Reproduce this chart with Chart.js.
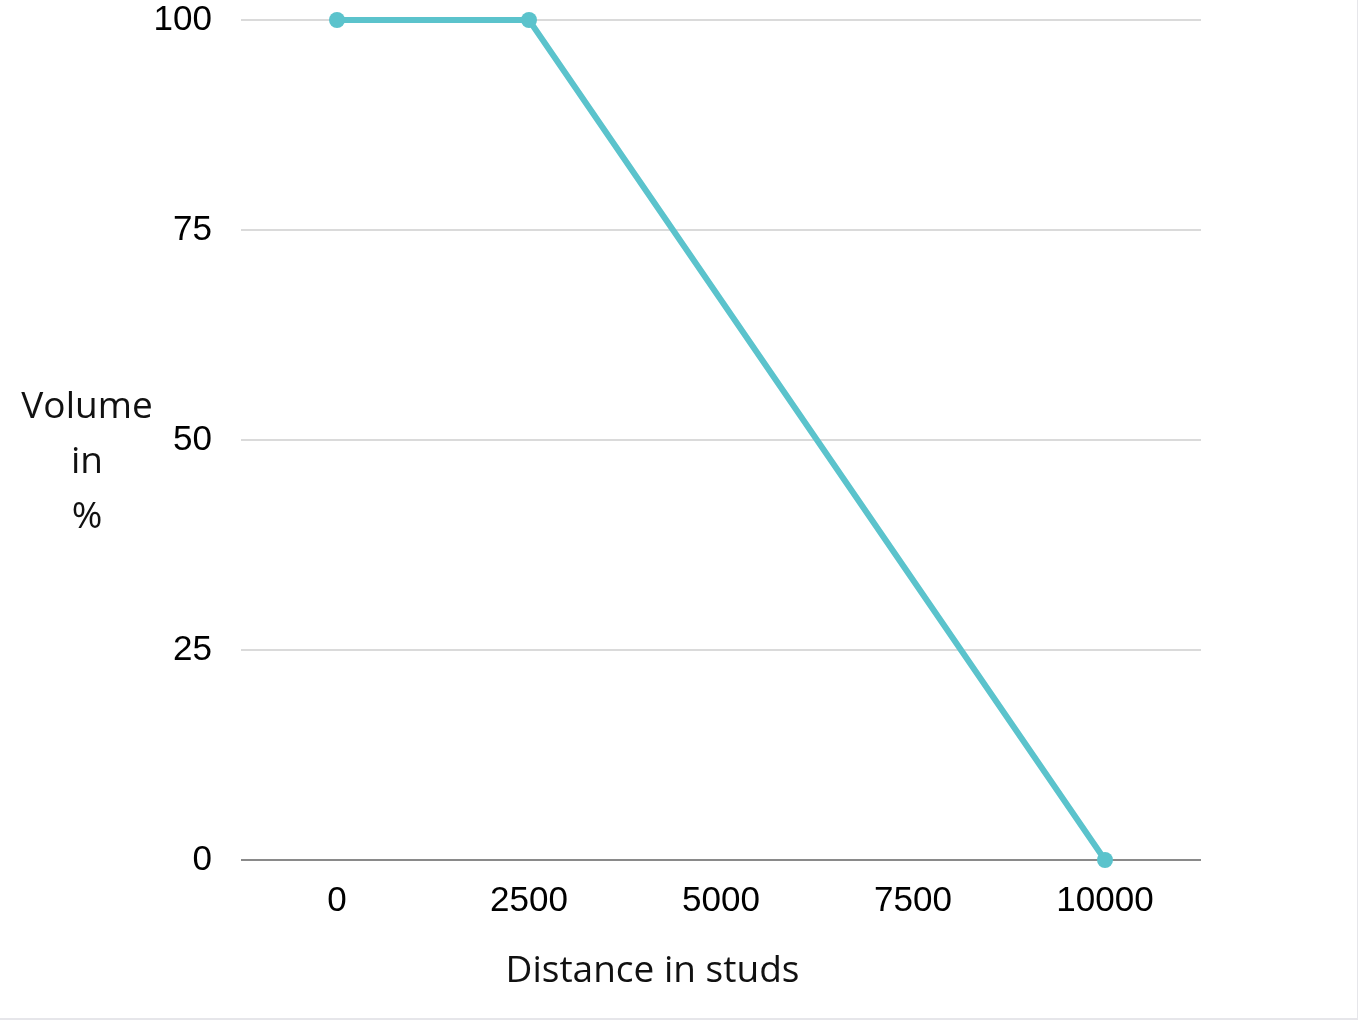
<!DOCTYPE html>
<html>
<head>
<meta charset="utf-8">
<script src="https://cdn.jsdelivr.net/npm/chart.js@4"></script>
<style>
  html, body { margin: 0; padding: 0; background: #e6e6ea; }
  #wrap { width: 1357px; height: 1018px; background: #fff; position: relative; }
</style>
</head>
<body>
<div id="wrap"><canvas id="chart"></canvas></div>
<script>
// Volume falloff by distance
const distanceLabels = ["0", "2500", "5000", "7500", "10000"];
const volume = [100, 100, null, null, 0]; // gaps between 2500 and 10000 are spanned
const volumeTicks = [0, 25, 50, 75, 100];
const yTitleLines = ["Volume", "in", "%"];
const xTitle = "Distance in studs";

const LINE = "#5bc3cc";
const TITLE_FONT = { family: "'Open Sans', sans-serif", size: 37, weight: 400 };
const TICK_FONT = { family: "'Liberation Sans', Arial, sans-serif", size: 35 };

// axis titles: x is off-centre, y is written horizontally one word per line
const axisTitles = {
  id: "axisTitles",
  afterDraw(chart) {
    const { ctx, chartArea } = chart;
    ctx.save();
    ctx.font = `${TITLE_FONT.weight} ${TITLE_FONT.size}px ${TITLE_FONT.family}`;
    ctx.fillStyle = "#111";
    ctx.textAlign = "center";
    ctx.textBaseline = "middle";

    const mid = (chartArea.top + chartArea.bottom) / 2 + 22;
    const gap = 55;
    yTitleLines.forEach((t, i) => {
      ctx.fillText(t, 87, mid + (i - (yTitleLines.length - 1) / 2) * gap);
    });

    ctx.fillText(xTitle, chart.width / 2 - 26, chartArea.bottom + 111);
    ctx.restore();
  },
};

new Chart(document.getElementById("chart"), {
  type: "line",
  data: {
    labels: distanceLabels,
    datasets: [{
      data: volume,
      borderColor: LINE,
      backgroundColor: LINE,
      borderWidth: 6,
      pointRadius: 8,
      pointBorderWidth: 0,
      spanGaps: true,
      tension: 0,
      clip: false,
    }],
  },
  options: {
    responsive: true,
    maintainAspectRatio: false,
    animation: false,
    layout: { padding: { left: 0, right: 156, top: 20, bottom: 0 } },
    plugins: { legend: { display: false }, tooltip: { enabled: false } },
    scales: {
      x: {
        offset: true,
        grid: { display: false, drawTicks: false },
        border: { display: false },
        ticks: { color: "#000", font: TICK_FONT, padding: 20, maxRotation: 0 },
        afterFit(scale) { scale.height = 158; },
      },
      y: {
        min: 0,
        max: 100,
        afterBuildTicks(scale) { scale.ticks = volumeTicks.map(v => ({ value: v })); },
        grid: {
          drawTicks: false,
          lineWidth: 2,
          color: ctx => (ctx.tick && ctx.tick.value === 0 ? "#8a8a8a" : "#dadada"),
        },
        border: { display: false },
        ticks: { color: "#000", font: TICK_FONT, padding: 29 },
        // the tick padding is only meant sideways, not above the top label
        afterFit(scale) {
          scale.width = 241;
          scale.paddingTop = 0;
          scale.paddingBottom = 0;
        },
      },
    },
  },
  plugins: [axisTitles],
});
</script>
</body>
</html>
